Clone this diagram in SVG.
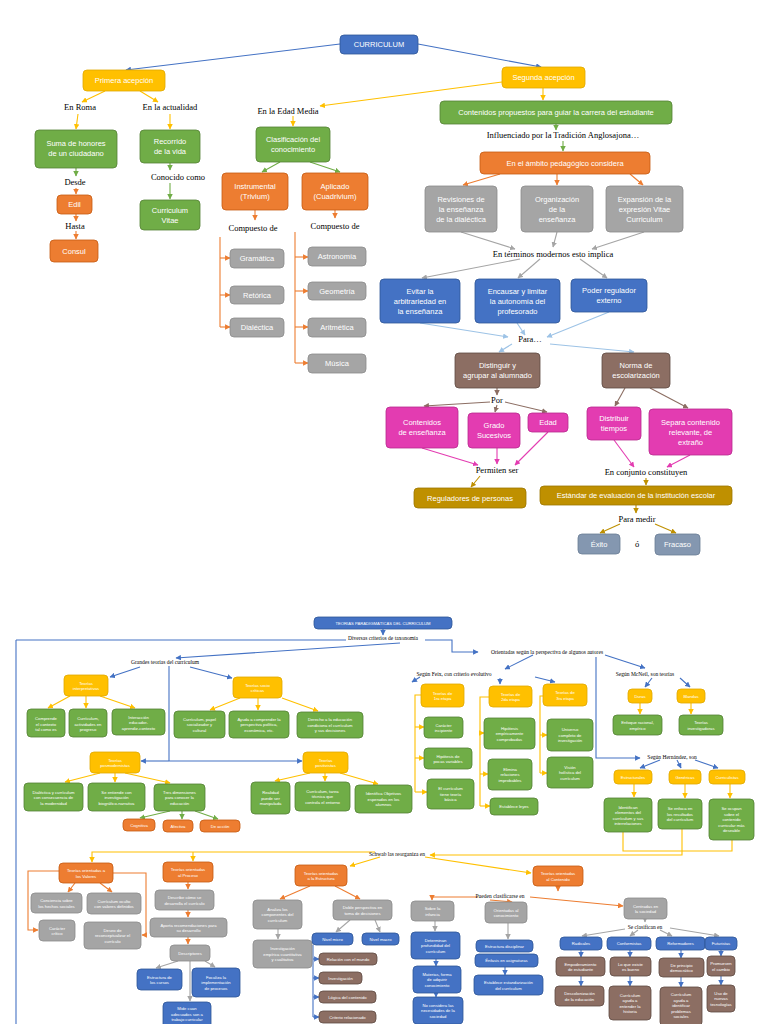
<svg xmlns="http://www.w3.org/2000/svg" width="768" height="1024" viewBox="0 0 768 1024">
<style>
rect{rx:4;stroke-width:0.8}
.B{fill:#4472C4;stroke:#2F5597}.Y{fill:#FFC000;stroke:#E0A800}.O{fill:#ED7D31;stroke:#C55A11}.G{fill:#70AD47;stroke:#548235}
.R{fill:#A5A5A5;stroke:#8C8C8C}.N{fill:#8C6E63;stroke:#5E4A42}.M{fill:#E33CB1;stroke:#B82A8E}.L{fill:#BF9000;stroke:#9C7600}.S{fill:#8497B0;stroke:#6A7D96}
text{font-family:"Liberation Sans",Arial,sans-serif;fill:#fff;text-anchor:middle}
.t{font-size:7.5px}.s{font-size:4.2px}
.l{font-family:"Liberation Serif","Times New Roman",serif;fill:#000;font-size:8.5px}
.ls{font-family:"Liberation Serif","Times New Roman",serif;fill:#000;font-size:5.5px}
.cb line,.cb polyline{stroke:#4472C4}.cy line,.cy polyline{stroke:#FFC000}.co line,.co polyline{stroke:#ED7D31}.cg line{stroke:#70AD47}
.cr line{stroke:#A5A5A5}.cl line{stroke:#9DC3E6}.cn line{stroke:#8C6E63}.cm line{stroke:#E33CB1}.cv line{stroke:#BF9000}
#conn line,#conn polyline{fill:none;stroke-width:1.1}
</style>
<defs>
<marker id="ab" viewBox="0 0 10 10" refX="9" refY="5" markerWidth="5" markerHeight="5" orient="auto"><path d="M0,0L10,5L0,10z" fill="#4472C4"/></marker>
<marker id="ay" viewBox="0 0 10 10" refX="9" refY="5" markerWidth="5" markerHeight="5" orient="auto"><path d="M0,0L10,5L0,10z" fill="#FFC000"/></marker>
<marker id="ao" viewBox="0 0 10 10" refX="9" refY="5" markerWidth="5" markerHeight="5" orient="auto"><path d="M0,0L10,5L0,10z" fill="#ED7D31"/></marker>
<marker id="ag" viewBox="0 0 10 10" refX="9" refY="5" markerWidth="5" markerHeight="5" orient="auto"><path d="M0,0L10,5L0,10z" fill="#70AD47"/></marker>
<marker id="ar" viewBox="0 0 10 10" refX="9" refY="5" markerWidth="5" markerHeight="5" orient="auto"><path d="M0,0L10,5L0,10z" fill="#A5A5A5"/></marker>
<marker id="al" viewBox="0 0 10 10" refX="9" refY="5" markerWidth="5" markerHeight="5" orient="auto"><path d="M0,0L10,5L0,10z" fill="#9DC3E6"/></marker>
<marker id="an" viewBox="0 0 10 10" refX="9" refY="5" markerWidth="5" markerHeight="5" orient="auto"><path d="M0,0L10,5L0,10z" fill="#8C6E63"/></marker>
<marker id="am" viewBox="0 0 10 10" refX="9" refY="5" markerWidth="5" markerHeight="5" orient="auto"><path d="M0,0L10,5L0,10z" fill="#E33CB1"/></marker>
<marker id="av" viewBox="0 0 10 10" refX="9" refY="5" markerWidth="5" markerHeight="5" orient="auto"><path d="M0,0L10,5L0,10z" fill="#BF9000"/></marker>
</defs>
<rect width="768" height="1024" fill="#fff" rx="0" stroke="none"/>
<g id="conn">
<g class="cb" marker-end="url(#ab)">
<line x1="340" y1="44" x2="126" y2="70"/><line x1="418" y1="44" x2="541" y2="67"/>
<line x1="383" y1="629" x2="383" y2="635"/><line x1="400" y1="643" x2="176" y2="658"/>
<polyline points="425,640 452,640 452,652 478,652"/>
<line x1="140" y1="667" x2="110" y2="677"/><line x1="190" y1="667" x2="232" y2="678"/>
<line x1="169" y1="761" x2="141" y2="761"/><line x1="169" y1="761" x2="302" y2="761"/>
<line x1="533" y1="655" x2="505" y2="669"/><line x1="605" y1="655" x2="645" y2="668"/>
<polyline points="596,657 596,758 640,758"/>
<line x1="420" y1="677" x2="412" y2="682"/><line x1="500" y1="678" x2="500" y2="684"/><line x1="535" y1="677" x2="555" y2="682"/>
<line x1="652" y1="678" x2="645" y2="687"/><line x1="680" y1="678" x2="690" y2="687"/>
<line x1="660" y1="760" x2="640" y2="768"/><line x1="677" y1="760" x2="681" y2="768"/><line x1="695" y1="760" x2="718" y2="768"/>
<line x1="313" y1="959" x2="319" y2="959"/><line x1="313" y1="978" x2="319" y2="978"/><line x1="313" y1="997" x2="319" y2="997"/><line x1="313" y1="1017" x2="319" y2="1017"/>
<line x1="436" y1="959" x2="436" y2="966"/><line x1="436" y1="993" x2="436" y2="997"/>
<line x1="505" y1="967" x2="505" y2="975"/>
<line x1="581" y1="950" x2="581" y2="957"/><line x1="581" y1="976" x2="581" y2="986"/>
<line x1="630" y1="950" x2="630" y2="957"/><line x1="630" y1="976" x2="630" y2="986"/>
<line x1="681" y1="950" x2="681" y2="958"/><line x1="681" y1="977" x2="681" y2="987"/>
<line x1="721" y1="950" x2="721" y2="956"/><line x1="721" y1="976" x2="721" y2="985"/>
</g>
<g class="cb">
<line x1="16" y1="640" x2="346" y2="640"/><line x1="16" y1="640" x2="16" y2="1024"/>
<line x1="169" y1="666" x2="169" y2="761"/><line x1="313" y1="945" x2="313" y2="1017"/>
</g>
<g class="cy" marker-end="url(#ay)">
<line x1="105" y1="91" x2="82" y2="102"/><line x1="78" y1="114" x2="76" y2="129"/>
<line x1="140" y1="91" x2="158" y2="102"/><line x1="170" y1="114" x2="170" y2="129"/>
<line x1="502" y1="82" x2="320" y2="106"/><line x1="293" y1="116" x2="293" y2="126"/>
<line x1="543" y1="88" x2="543" y2="100"/>
<line x1="70" y1="696" x2="48" y2="708"/><line x1="86" y1="696" x2="86" y2="708"/><line x1="100" y1="696" x2="135" y2="708"/>
<line x1="240" y1="698" x2="210" y2="710"/><line x1="258" y1="698" x2="258" y2="710"/><line x1="282" y1="698" x2="318" y2="711"/>
<line x1="100" y1="773" x2="65" y2="782"/><line x1="115" y1="773" x2="115" y2="782"/><line x1="125" y1="773" x2="170" y2="783"/>
<line x1="310" y1="773" x2="275" y2="781"/><line x1="325" y1="773" x2="325" y2="781"/><line x1="340" y1="773" x2="378" y2="784"/>
<line x1="415" y1="727" x2="424" y2="727"/><line x1="415" y1="758" x2="424" y2="758"/><line x1="415" y1="792" x2="427" y2="792"/>
<line x1="480" y1="733" x2="484" y2="733"/><line x1="480" y1="774" x2="488" y2="774"/><line x1="480" y1="806" x2="490" y2="806"/>
<line x1="540" y1="735" x2="547" y2="735"/><line x1="540" y1="773" x2="547" y2="773"/>
<line x1="640" y1="703" x2="640" y2="714"/><line x1="691" y1="703" x2="691" y2="714"/>
<line x1="634" y1="784" x2="634" y2="797"/><line x1="685" y1="784" x2="685" y2="798"/><line x1="730" y1="784" x2="730" y2="798"/>
<polyline points="682,829 682,855 430,855"/>
<polyline points="375,852 92,852 92,862"/><line x1="193" y1="852" x2="193" y2="861"/>
<line x1="380" y1="857" x2="350" y2="866"/><line x1="425" y1="857" x2="531" y2="873"/>
</g>
<g class="cy">
<polyline points="623,832 623,851 732,851 732,840"/>
<polyline points="427,695 415,695 415,792"/><polyline points="489,697 480,697 480,806"/><polyline points="543,696 540,696 540,773"/>
</g>
<g class="cg" marker-end="url(#ag)">
<line x1="76" y1="168" x2="76" y2="176"/><line x1="170" y1="163" x2="170" y2="170"/><line x1="170" y1="183" x2="170" y2="199"/>
<line x1="280" y1="162" x2="262" y2="172"/><line x1="310" y1="162" x2="340" y2="172"/>
<line x1="556" y1="124" x2="556" y2="130"/><line x1="563" y1="141" x2="563" y2="151"/>
<line x1="170" y1="811" x2="140" y2="818"/><line x1="182" y1="811" x2="182" y2="819"/><line x1="195" y1="811" x2="218" y2="819"/>
</g>
<g class="co" marker-end="url(#ao)">
<line x1="76" y1="188" x2="76" y2="194"/><line x1="76" y1="214" x2="76" y2="221"/><line x1="76" y1="231" x2="76" y2="239"/>
<line x1="255" y1="210" x2="255" y2="220"/><line x1="335" y1="210" x2="335" y2="218"/>
<line x1="220" y1="258" x2="230" y2="258"/><line x1="220" y1="295" x2="230" y2="295"/><line x1="220" y1="327" x2="230" y2="327"/>
<line x1="295" y1="257" x2="308" y2="257"/><line x1="295" y1="291" x2="308" y2="291"/><line x1="295" y1="327" x2="308" y2="327"/><line x1="295" y1="363" x2="308" y2="363"/>
<line x1="500" y1="174" x2="463" y2="185"/><line x1="557" y1="174" x2="557" y2="185"/><line x1="630" y1="174" x2="643" y2="185"/>
<line x1="75" y1="883" x2="68" y2="892"/><line x1="100" y1="883" x2="112" y2="892"/>
<polyline points="59,871 28,871 28,930 38,930"/><polyline points="113,873 146,873 146,935 142,935"/>
<line x1="188" y1="882" x2="188" y2="889"/><line x1="188" y1="910" x2="188" y2="917"/><line x1="188" y1="937" x2="188" y2="944"/>
<line x1="310" y1="886" x2="280" y2="899"/><line x1="335" y1="886" x2="360" y2="899"/>
<line x1="558" y1="886" x2="558" y2="891"/><polyline points="478,897 432,897 432,900"/>
<line x1="490" y1="900" x2="512" y2="902"/><line x1="530" y1="897" x2="623" y2="906"/>
</g>
<g class="co"><line x1="220" y1="237" x2="220" y2="327"/><line x1="295" y1="232" x2="295" y2="363"/></g>
<g class="cr" marker-end="url(#ar)">
<line x1="461" y1="232" x2="515" y2="249"/><line x1="557" y1="232" x2="553" y2="247"/><line x1="644" y1="232" x2="592" y2="249"/>
<line x1="520" y1="259" x2="422" y2="278"/><line x1="540" y1="259" x2="518" y2="278"/><line x1="580" y1="259" x2="607" y2="278"/>
<line x1="178" y1="961" x2="156" y2="968"/><line x1="190" y1="961" x2="190" y2="1001"/><line x1="205" y1="961" x2="215" y2="967"/>
<line x1="278" y1="929" x2="278" y2="939"/><line x1="350" y1="920" x2="336" y2="932"/><line x1="375" y1="920" x2="380" y2="932"/>
<line x1="435" y1="921" x2="435" y2="931"/><line x1="508" y1="923" x2="508" y2="939"/><line x1="645" y1="918" x2="645" y2="922"/>
<line x1="625" y1="929" x2="582" y2="936"/><line x1="638" y1="930" x2="630" y2="936"/><line x1="660" y1="930" x2="672" y2="936"/><line x1="670" y1="928" x2="719" y2="936"/>
</g>
<g class="cl" marker-end="url(#al)">
<line x1="420" y1="323" x2="508" y2="337"/><line x1="517" y1="323" x2="525" y2="335"/><line x1="609" y1="312" x2="547" y2="337"/>
<line x1="512" y1="344" x2="499" y2="352"/><line x1="550" y1="344" x2="634" y2="352"/>
</g>
<g class="cn" marker-end="url(#an)">
<line x1="497" y1="388" x2="497" y2="395"/><line x1="490" y1="402" x2="424" y2="406"/><line x1="497" y1="405" x2="495" y2="412"/><line x1="505" y1="402" x2="547" y2="412"/>
<line x1="625" y1="388" x2="615" y2="406"/><line x1="650" y1="388" x2="688" y2="408"/>
</g>
<g class="cm" marker-end="url(#am)">
<line x1="422" y1="448" x2="478" y2="465"/><line x1="497" y1="448" x2="497" y2="464"/><line x1="548" y1="432" x2="515" y2="465"/>
<line x1="614" y1="440" x2="634" y2="467"/><line x1="690" y1="455" x2="667" y2="467"/>
</g>
<g class="cv" marker-end="url(#av)">
<line x1="480" y1="476" x2="471" y2="487"/><line x1="646" y1="478" x2="646" y2="485"/>
<line x1="636" y1="505" x2="636" y2="513"/><line x1="620" y1="524" x2="600" y2="533"/><line x1="655" y1="524" x2="676" y2="533"/>
</g>
</g>
<g id="labels">
<text class="l" x="80" y="110">En Roma</text><text class="l" x="170" y="110">En la actualidad</text>
<text class="l" x="75" y="185">Desde</text><text class="l" x="75" y="229">Hasta</text><text class="l" x="178" y="180">Conocido como</text>
<text class="l" x="288" y="114">En la Edad Media</text><text class="l" x="253" y="231">Compuesto de</text><text class="l" x="335" y="229">Compuesto de</text>
<text class="l" x="563" y="138">Influenciado por la Tradición Anglosajona…</text>
<text class="l" x="553" y="257">En términos modernos esto implica</text><text class="l" x="530" y="342">Para…</text>
<text class="l" x="497" y="403">Por</text><text class="l" x="497" y="473">Permiten ser</text><text class="l" x="646" y="475">En conjunto constituyen</text>
<text class="l" x="637" y="522">Para medir</text><text class="l" x="637" y="547">ó</text>
<text class="ls" x="383" y="640">Diversas criterios de taxonomía</text>
<text class="ls" x="547" y="654">Orientadas según la perspectiva de algunos autores</text>
<text class="ls" x="165" y="664">Grandes teorías del currículum</text>
<text class="ls" x="454" y="676">Según Feix, con criterio evolutivo</text>
<text class="ls" x="645" y="676">Según McNeil, son teorías</text>
<text class="ls" x="672" y="759">Según Hernández, son</text>
<text class="ls" x="397" y="856">Schwab las reorganiza en</text>
<text class="ls" x="500" y="898">Pueden clasificarse en</text>
<text class="ls" x="645" y="929">Se clasifican en</text>
</g>
<g id="n1"><rect class="B" x="340" y="35" width="78" height="19"/><text class="t" x="379" y="47">CURRICULUM</text></g>
<g id="n2"><rect class="Y" x="83" y="70" width="82" height="21"/><text class="t" x="124" y="83">Primera acepción</text></g>
<g id="n3"><rect class="Y" x="502" y="67" width="83" height="21"/><text class="t" x="543.5" y="80">Segunda acepción</text></g>
<g id="n4"><rect class="G" x="35" y="130" width="82" height="38"/><text class="t" x="76" y="146">Suma de honores<tspan x="76" dy="10">de un ciudadano</tspan></text></g>
<g id="n5"><rect class="G" x="140" y="130" width="60" height="33"/><text class="t" x="170" y="144">Recorrido<tspan x="170" dy="10">de la vida</tspan></text></g>
<g id="n6"><rect class="O" x="57" y="195" width="35" height="19"/><text class="t" x="74.5" y="207">Edil</text></g>
<g id="n7"><rect class="O" x="50" y="240" width="48" height="22"/><text class="t" x="74" y="254">Consul</text></g>
<g id="n8"><rect class="G" x="140" y="200" width="60" height="30"/><text class="t" x="170" y="213">Curriculum<tspan x="170" dy="10">Vitae</tspan></text></g>
<g id="n9"><rect class="G" x="256" y="127" width="74" height="35"/><text class="t" x="293" y="142">Clasificación del<tspan x="293" dy="10">conocimiento</tspan></text></g>
<g id="n10"><rect class="O" x="222" y="173" width="66" height="37"/><text class="t" x="255" y="189">Instrumental<tspan x="255" dy="10">(Trivium)</tspan></text></g>
<g id="n11"><rect class="O" x="302" y="173" width="66" height="37"/><text class="t" x="335" y="189">Aplicado<tspan x="335" dy="10">(Cuadrivium)</tspan></text></g>
<g id="n12"><rect class="R" x="230" y="249" width="54" height="19"/><text class="t" x="257" y="261">Gramática</text></g>
<g id="n13"><rect class="R" x="230" y="286" width="54" height="18"/><text class="t" x="257" y="298">Retórica</text></g>
<g id="n14"><rect class="R" x="230" y="318" width="54" height="19"/><text class="t" x="257" y="330">Dialéctica</text></g>
<g id="n15"><rect class="R" x="308" y="247" width="58" height="19"/><text class="t" x="337" y="259">Astronomía</text></g>
<g id="n16"><rect class="R" x="308" y="282" width="58" height="18"/><text class="t" x="337" y="294">Geometría</text></g>
<g id="n17"><rect class="R" x="308" y="318" width="58" height="19"/><text class="t" x="337" y="330">Aritmética</text></g>
<g id="n18"><rect class="R" x="308" y="354" width="58" height="19"/><text class="t" x="337" y="366">Música</text></g>
<g id="n19"><rect class="G" x="440" y="101" width="232" height="23"/><text class="t" x="556" y="115">Contenidos propuestos para guiar la carrera del estudiante</text></g>
<g id="n20"><rect class="O" x="480" y="152" width="170" height="22"/><text class="t" x="565" y="166">En el ámbito pedagógico considera</text></g>
<g id="n21"><rect class="R" x="425" y="186" width="72" height="46"/><text class="t" x="461" y="202">Revisiones de<tspan x="461" dy="10">la enseñanza</tspan><tspan x="461" dy="10">de la dialéctica</tspan></text></g>
<g id="n22"><rect class="R" x="521" y="186" width="72" height="46"/><text class="t" x="557" y="202">Organización<tspan x="557" dy="10">de la</tspan><tspan x="557" dy="10">enseñanza</tspan></text></g>
<g id="n23"><rect class="R" x="606" y="186" width="77" height="46"/><text class="t" x="644.5" y="202">Expansión de la<tspan x="644.5" dy="10">expresión Vitae</tspan><tspan x="644.5" dy="10">Curriculum</tspan></text></g>
<g id="n24"><rect class="B" x="380" y="279" width="80" height="44"/><text class="t" x="420" y="294">Evitar la<tspan x="420" dy="10">arbitrariedad en</tspan><tspan x="420" dy="10">la enseñanza</tspan></text></g>
<g id="n25"><rect class="B" x="475" y="279" width="85" height="44"/><text class="t" x="517.5" y="294">Encausar y limitar<tspan x="517.5" dy="10">la autonomía del</tspan><tspan x="517.5" dy="10">profesorado</tspan></text></g>
<g id="n26"><rect class="B" x="571" y="279" width="76" height="33"/><text class="t" x="609" y="293">Poder regulador<tspan x="609" dy="10">externo</tspan></text></g>
<g id="n27"><rect class="N" x="455" y="353" width="85" height="35"/><text class="t" x="497.5" y="368">Distinguir y<tspan x="497.5" dy="10">agrupar al alumnado</tspan></text></g>
<g id="n28"><rect class="N" x="602" y="353" width="68" height="35"/><text class="t" x="636" y="368">Norma de<tspan x="636" dy="10">escolarización</tspan></text></g>
<g id="n29"><rect class="M" x="386" y="407" width="72" height="41"/><text class="t" x="422" y="425">Contenidos<tspan x="422" dy="10">de enseñanza</tspan></text></g>
<g id="n30"><rect class="M" x="468" y="413" width="52" height="35"/><text class="t" x="494" y="428">Grado<tspan x="494" dy="10">Sucesivos</tspan></text></g>
<g id="n31"><rect class="M" x="528" y="413" width="40" height="19"/><text class="t" x="548" y="425">Edad</text></g>
<g id="n32"><rect class="M" x="587" y="407" width="54" height="33"/><text class="t" x="614" y="421">Distribuir<tspan x="614" dy="10">tiempos</tspan></text></g>
<g id="n33"><rect class="M" x="649" y="409" width="83" height="46"/><text class="t" x="690.5" y="425">Separa contenido<tspan x="690.5" dy="10">relevante, de</tspan><tspan x="690.5" dy="10">extraño</tspan></text></g>
<g id="n34"><rect class="L" x="414" y="488" width="112" height="20"/><text class="t" x="470" y="501">Reguladores de personas</text></g>
<g id="n35"><rect class="L" x="540" y="486" width="192" height="19"/><text class="t" x="636" y="498">Estándar de evaluación de la institución escolar</text></g>
<g id="n36"><rect class="S" x="578" y="534" width="42" height="20"/><text class="t" x="599" y="547">Éxito</text></g>
<g id="n37"><rect class="S" x="655" y="534" width="45" height="21"/><text class="t" x="677.5" y="547">Fracaso</text></g>

<g id="b1"><rect class="B" x="314" y="617" width="138" height="12" rx="2"/><text class="s" x="383" y="624.5">TEORÍAS PARADIGMÁTICAS DEL CURRICULUM</text></g>
<g id="b2"><rect class="Y" x="64" y="675" width="44" height="21"/><text class="s" x="86" y="684.5">Teorías<tspan x="86" dy="5.5">interpretativas</tspan></text></g>
<g id="b3"><rect class="G" x="27" y="709" width="38" height="28"/><text class="s" x="46" y="720">Comprende<tspan x="46" dy="5.5">el contexto</tspan><tspan x="46" dy="5.5">tal como es</tspan></text></g>
<g id="b4"><rect class="G" x="69" y="709" width="38" height="28"/><text class="s" x="88" y="720">Currículum,<tspan x="88" dy="5.5">actividades en</tspan><tspan x="88" dy="5.5">progreso</tspan></text></g>
<g id="b5"><rect class="G" x="112" y="709" width="53" height="26"/><text class="s" x="138.5" y="718.5">Interacción<tspan x="138.5" dy="5.5">educador-</tspan><tspan x="138.5" dy="5.5">aprendiz-contexto</tspan></text></g>
<g id="b6"><rect class="Y" x="233" y="677" width="49" height="21"/><text class="s" x="257.5" y="686.5">Teorías socio<tspan x="257.5" dy="5.5">críticas</tspan></text></g>
<g id="b7"><rect class="G" x="174" y="711" width="51" height="27"/><text class="s" x="199.5" y="720.5">Currículum, papel<tspan x="199.5" dy="5.5">socializador y</tspan><tspan x="199.5" dy="5.5">cultural</tspan></text></g>
<g id="b8"><rect class="G" x="229" y="711" width="60" height="27"/><text class="s" x="259" y="720.5">Ayuda a comprender la<tspan x="259" dy="5.5">perspectiva política,</tspan><tspan x="259" dy="5.5">económica, etc.</tspan></text></g>
<g id="b9"><rect class="G" x="297" y="712" width="66" height="26"/><text class="s" x="330" y="721">Derecho a la educación<tspan x="330" dy="5.5">condiciona el currículum</tspan><tspan x="330" dy="5.5">y sus decisiones</tspan></text></g>
<g id="b10"><rect class="Y" x="90" y="752" width="50" height="21"/><text class="s" x="115" y="761.5">Teorías<tspan x="115" dy="5.5">posmodernistas</tspan></text></g>
<g id="b11"><rect class="G" x="24" y="783" width="59" height="28"/><text class="s" x="53.5" y="793.5">Dialéctica y currículum<tspan x="53.5" dy="5.5">con consecuencia de</tspan><tspan x="53.5" dy="5.5">la modernidad</tspan></text></g>
<g id="b12"><rect class="G" x="88" y="783" width="57" height="28"/><text class="s" x="116.5" y="793.5">Se entiende con<tspan x="116.5" dy="5.5">investigación</tspan><tspan x="116.5" dy="5.5">biográfico-narrativa</tspan></text></g>
<g id="b13"><rect class="G" x="154" y="784" width="51" height="27"/><text class="s" x="179.5" y="793.5">Tres dimensiones<tspan x="179.5" dy="5.5">para conocer la</tspan><tspan x="179.5" dy="5.5">educación</tspan></text></g>
<g id="b14"><rect class="O" x="123" y="819" width="32" height="12" rx="1"/><text class="s" x="139" y="826.5">Cognitiva</text></g>
<g id="b15"><rect class="O" x="163" y="820" width="30" height="12" rx="1"/><text class="s" x="178" y="827.5">Afectiva</text></g>
<g id="b16"><rect class="O" x="200" y="820" width="40" height="12" rx="1"/><text class="s" x="220" y="827.5">De acción</text></g>
<g id="b17"><rect class="Y" x="303" y="752" width="45" height="21"/><text class="s" x="325.5" y="761.5">Teorías<tspan x="325.5" dy="5.5">positivistas</tspan></text></g>
<g id="b18"><rect class="G" x="251" y="782" width="39" height="32"/><text class="s" x="270.5" y="794">Realidad<tspan x="270.5" dy="5.5">puede ser</tspan><tspan x="270.5" dy="5.5">manipulada</tspan></text></g>
<g id="b19"><rect class="G" x="295" y="782" width="55" height="29"/><text class="s" x="322.5" y="792.5">Currículum, tarea<tspan x="322.5" dy="5.5">técnica que</tspan><tspan x="322.5" dy="5.5">controla el entorno</tspan></text></g>
<g id="b20"><rect class="G" x="355" y="785" width="57" height="28"/><text class="s" x="383.5" y="795">Identifica Objetivos<tspan x="383.5" dy="5.5">esperados en los</tspan><tspan x="383.5" dy="5.5">alumnos</tspan></text></g>
<g id="b21"><rect class="Y" x="421" y="684" width="43" height="23"/><text class="s" x="442.5" y="694.5">Teorías de<tspan x="442.5" dy="5.5">1ra etapa</tspan></text></g>
<g id="b22"><rect class="G" x="424" y="717" width="39" height="21"/><text class="s" x="443.5" y="726.5">Carácter<tspan x="443.5" dy="5.5">incipiente</tspan></text></g>
<g id="b23"><rect class="G" x="424" y="748" width="48" height="21"/><text class="s" x="448" y="757.5">Hipótesis de<tspan x="448" dy="5.5">pocas variables</tspan></text></g>
<g id="b24"><rect class="G" x="427" y="779" width="47" height="30"/><text class="s" x="450.5" y="790">El currículum<tspan x="450.5" dy="5.5">tiene teoría</tspan><tspan x="450.5" dy="5.5">básica</tspan></text></g>
<g id="b25"><rect class="Y" x="489" y="686" width="43" height="21"/><text class="s" x="510.5" y="695.5">Teorías de<tspan x="510.5" dy="5.5">2da etapa</tspan></text></g>
<g id="b26"><rect class="G" x="484" y="718" width="51" height="31"/><text class="s" x="509.5" y="729.5">Hipótesis<tspan x="509.5" dy="5.5">empíricamente</tspan><tspan x="509.5" dy="5.5">comprobadas</tspan></text></g>
<g id="b27"><rect class="G" x="488" y="759" width="44" height="31"/><text class="s" x="510" y="770.5">Elimina<tspan x="510" dy="5.5">relaciones</tspan><tspan x="510" dy="5.5">improbables</tspan></text></g>
<g id="b28"><rect class="G" x="490" y="798" width="48" height="17"/><text class="s" x="514" y="808">Establece leyes</text></g>
<g id="b29"><rect class="Y" x="543" y="684" width="44" height="22"/><text class="s" x="565" y="694">Teorías de<tspan x="565" dy="5.5">3ra etapa</tspan></text></g>
<g id="b30"><rect class="G" x="547" y="719" width="46" height="32"/><text class="s" x="570" y="731">Universo<tspan x="570" dy="5.5">completo de</tspan><tspan x="570" dy="5.5">investigación</tspan></text></g>
<g id="b31"><rect class="G" x="547" y="757" width="46" height="31"/><text class="s" x="570" y="768.5">Visión<tspan x="570" dy="5.5">holística del</tspan><tspan x="570" dy="5.5">currículum</tspan></text></g>
<g id="b32"><rect class="Y" x="628" y="689" width="24" height="14" rx="1"/><text class="s" x="640" y="697.5">Duras</text></g>
<g id="b33"><rect class="Y" x="677" y="689" width="28" height="14" rx="1"/><text class="s" x="691" y="697.5">Blandas</text></g>
<g id="b34"><rect class="G" x="613" y="715" width="49" height="20"/><text class="s" x="637.5" y="724">Enfoque racional,<tspan x="637.5" dy="5.5">empírico</tspan></text></g>
<g id="b35"><rect class="G" x="679" y="715" width="44" height="20"/><text class="s" x="701" y="724">Teorías<tspan x="701" dy="5.5">investigadoras</tspan></text></g>
<g id="b36"><rect class="Y" x="614" y="770" width="38" height="14" rx="1"/><text class="s" x="633" y="778.5">Estructurales</text></g>
<g id="b37"><rect class="Y" x="669" y="770" width="32" height="14" rx="1"/><text class="s" x="685" y="778.5">Genéricas</text></g>
<g id="b38"><rect class="Y" x="709" y="770" width="36" height="14" rx="1"/><text class="s" x="727" y="778.5">Curriculistas</text></g>
<g id="b39"><rect class="G" x="604" y="798" width="48" height="34"/><text class="s" x="628" y="808.5">Identifican<tspan x="628" dy="5.5">elementos del</tspan><tspan x="628" dy="5.5">currículum y sus</tspan><tspan x="628" dy="5.5">interrelaciones</tspan></text></g>
<g id="b40"><rect class="G" x="658" y="799" width="44" height="30"/><text class="s" x="680" y="810">Se enfoca en<tspan x="680" dy="5.5">los resultados</tspan><tspan x="680" dy="5.5">del currículum</tspan></text></g>
<g id="b41"><rect class="G" x="709" y="799" width="45" height="41"/><text class="s" x="731.5" y="810">Se ocupan<tspan x="731.5" dy="5.5">sobre el</tspan><tspan x="731.5" dy="5.5">contenido</tspan><tspan x="731.5" dy="5.5">curricular más</tspan><tspan x="731.5" dy="5.5">deseable</tspan></text></g>
<g id="b42"><rect class="O" x="59" y="863" width="54" height="20"/><text class="s" x="86" y="872">Teorías orientadas a<tspan x="86" dy="5.5">los Valores</tspan></text></g>
<g id="b43"><rect class="O" x="163" y="862" width="50" height="20"/><text class="s" x="188" y="871">Teorías orientadas<tspan x="188" dy="5.5">al Proceso</tspan></text></g>
<g id="b44"><rect class="O" x="295" y="865" width="52" height="21"/><text class="s" x="321" y="874.5">Teorías orientadas<tspan x="321" dy="5.5">a la Estructura</tspan></text></g>
<g id="b45"><rect class="O" x="533" y="866" width="50" height="20"/><text class="s" x="558" y="875">Teorías orientadas<tspan x="558" dy="5.5">al Contenido</tspan></text></g>
<g id="b46"><rect class="R" x="31" y="893" width="51" height="20"/><text class="s" x="56.5" y="902">Conciencia sobre<tspan x="56.5" dy="5.5">los hechos sociales</tspan></text></g>
<g id="b47"><rect class="R" x="87" y="893" width="54" height="21"/><text class="s" x="114" y="902.5">Currículum oculto<tspan x="114" dy="5.5">con valores definidos</tspan></text></g>
<g id="b48"><rect class="R" x="39" y="920" width="36" height="21"/><text class="s" x="57" y="929.5">Carácter<tspan x="57" dy="5.5">crítico</tspan></text></g>
<g id="b49"><rect class="R" x="84" y="922" width="57" height="27"/><text class="s" x="112.5" y="931.5">Deseo de<tspan x="112.5" dy="5.5">reconceptualizar el</tspan><tspan x="112.5" dy="5.5">currículo</tspan></text></g>
<g id="b50"><rect class="R" x="155" y="890" width="59" height="20"/><text class="s" x="184.5" y="899">Describe cómo se<tspan x="184.5" dy="5.5">desarrolla el currículo</tspan></text></g>
<g id="b51"><rect class="R" x="150" y="918" width="77" height="19"/><text class="s" x="188.5" y="926.5">Aporta recomendaciones para<tspan x="188.5" dy="5.5">su desarrollo</tspan></text></g>
<g id="b52"><rect class="R" x="170" y="945" width="40" height="16"/><text class="s" x="190" y="954.5">Descriptores</text></g>
<g id="b53"><rect class="B" x="137" y="969" width="45" height="21"/><text class="s" x="159.5" y="978.5">Estructura de<tspan x="159.5" dy="5.5">los cursos</tspan></text></g>
<g id="b54"><rect class="B" x="192" y="968" width="48" height="29"/><text class="s" x="216" y="978.5">Focaliza la<tspan x="216" dy="5.5">implementación</tspan><tspan x="216" dy="5.5">de procesos</tspan></text></g>
<g id="b55"><rect class="B" x="163" y="1002" width="48" height="26"/><text class="s" x="187" y="1010">Mide cuan<tspan x="187" dy="5.5">adecuados son a</tspan><tspan x="187" dy="5.5">trabajo curricular</tspan></text></g>
<g id="b56"><rect class="R" x="253" y="900" width="49" height="29"/><text class="s" x="277.5" y="910.5">Analiza los<tspan x="277.5" dy="5.5">componentes del</tspan><tspan x="277.5" dy="5.5">currículum</tspan></text></g>
<g id="b57"><rect class="R" x="253" y="940" width="59" height="28"/><text class="s" x="282.5" y="950">Investigación<tspan x="282.5" dy="5.5">empírica cuantitativa</tspan><tspan x="282.5" dy="5.5">y cualitativa</tspan></text></g>
<g id="b58"><rect class="R" x="333" y="900" width="59" height="20"/><text class="s" x="362.5" y="909">Doble perspectiva en<tspan x="362.5" dy="5.5">toma de decisiones</tspan></text></g>
<g id="b59"><rect class="B" x="312" y="933" width="41" height="12" rx="1"/><text class="s" x="332.5" y="940.5">Nivel micro</text></g>
<g id="b60"><rect class="B" x="362" y="933" width="37" height="12" rx="1"/><text class="s" x="380.5" y="940.5">Nivel macro</text></g>
<g id="b61"><rect class="N" x="319" y="953" width="58" height="12" rx="1"/><text class="s" x="348" y="960.5">Relación con el mundo</text></g>
<g id="b62"><rect class="N" x="319" y="972" width="43" height="12" rx="1"/><text class="s" x="340.5" y="979.5">Investigación</text></g>
<g id="b63"><rect class="N" x="319" y="991" width="57" height="12" rx="1"/><text class="s" x="347.5" y="998.5">Lógica del contenido</text></g>
<g id="b64"><rect class="N" x="319" y="1011" width="57" height="12" rx="1"/><text class="s" x="347.5" y="1018.5">Criterio relacionado</text></g>
<g id="b65"><rect class="R" x="411" y="901" width="43" height="20"/><text class="s" x="432.5" y="910">Sobre la<tspan x="432.5" dy="5.5">infancia</tspan></text></g>
<g id="b66"><rect class="R" x="485" y="902" width="42" height="21"/><text class="s" x="506" y="911.5">Orientadas al<tspan x="506" dy="5.5">conocimiento</tspan></text></g>
<g id="b67"><rect class="R" x="624" y="898" width="43" height="21"/><text class="s" x="645.5" y="907.5">Centradas en<tspan x="645.5" dy="5.5">la sociedad</tspan></text></g>
<g id="b68"><rect class="B" x="411" y="932" width="49" height="27"/><text class="s" x="435.5" y="941.5">Determinan<tspan x="435.5" dy="5.5">profundidad del</tspan><tspan x="435.5" dy="5.5">currículum</tspan></text></g>
<g id="b69"><rect class="B" x="413" y="966" width="48" height="27"/><text class="s" x="437" y="975.5">Materias, forma<tspan x="437" dy="5.5">de adquirir</tspan><tspan x="437" dy="5.5">conocimiento</tspan></text></g>
<g id="b70"><rect class="B" x="413" y="997" width="50" height="27"/><text class="s" x="438" y="1006.5">No considera las<tspan x="438" dy="5.5">necesidades de la</tspan><tspan x="438" dy="5.5">sociedad</tspan></text></g>
<g id="b71"><rect class="B" x="476" y="940" width="57" height="12" rx="1"/><text class="s" x="504.5" y="947.5">Estructura disciplinar</text></g>
<g id="b72"><rect class="B" x="475" y="954" width="63" height="13" rx="1"/><text class="s" x="506.5" y="962">Énfasis en asignaturas</text></g>
<g id="b73"><rect class="B" x="474" y="975" width="69" height="20"/><text class="s" x="508.5" y="984">Establece estandarización<tspan x="508.5" dy="5.5">del currículum</tspan></text></g>
<g id="b74"><rect class="B" x="560" y="937" width="42" height="13" rx="1"/><text class="s" x="581" y="945">Radicales</text></g>
<g id="b75"><rect class="B" x="607" y="937" width="44" height="13" rx="1"/><text class="s" x="629" y="945">Conformistas</text></g>
<g id="b76"><rect class="B" x="656" y="937" width="49" height="13" rx="1"/><text class="s" x="680.5" y="945">Reformadores</text></g>
<g id="b77"><rect class="B" x="705" y="937" width="32" height="13" rx="1"/><text class="s" x="721" y="945">Futuristas</text></g>
<g id="b78"><rect class="N" x="556" y="957" width="49" height="19"/><text class="s" x="580.5" y="965.5">Empoderamiento<tspan x="580.5" dy="5.5">de estudiante</tspan></text></g>
<g id="b79"><rect class="N" x="555" y="986" width="49" height="20"/><text class="s" x="579.5" y="995">Descolonización<tspan x="579.5" dy="5.5">de la educación</tspan></text></g>
<g id="b80"><rect class="N" x="610" y="957" width="41" height="19"/><text class="s" x="630.5" y="965.5">Lo que existe<tspan x="630.5" dy="5.5">es bueno</tspan></text></g>
<g id="b81"><rect class="N" x="609" y="986" width="42" height="34"/><text class="s" x="630" y="996.5">Currículum<tspan x="630" dy="5.5">ayuda a</tspan><tspan x="630" dy="5.5">entender la</tspan><tspan x="630" dy="5.5">historia</tspan></text></g>
<g id="b82"><rect class="N" x="659" y="958" width="45" height="19"/><text class="s" x="681.5" y="966.5">De principio<tspan x="681.5" dy="5.5">democrático</tspan></text></g>
<g id="b83"><rect class="N" x="660" y="987" width="42" height="39"/><text class="s" x="681" y="996">Currículum<tspan x="681" dy="5.5">ayuda a</tspan><tspan x="681" dy="5.5">identificar</tspan><tspan x="681" dy="5.5">problemas</tspan><tspan x="681" dy="5.5">sociales</tspan></text></g>
<g id="b84"><rect class="N" x="707" y="956" width="28" height="20"/><text class="s" x="721" y="965">Promueven<tspan x="721" dy="5.5">el cambio</tspan></text></g>
<g id="b85"><rect class="N" x="707" y="985" width="28" height="27"/><text class="s" x="721" y="994.5">Uso de<tspan x="721" dy="5.5">nuevas</tspan><tspan x="721" dy="5.5">tecnologías</tspan></text></g>
</svg>
